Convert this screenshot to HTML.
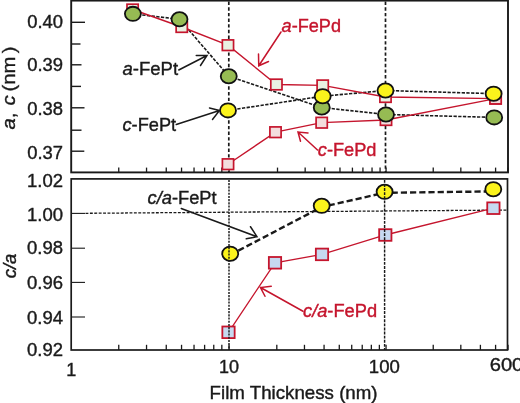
<!DOCTYPE html>
<html><head><meta charset="utf-8"><title>Lattice parameters vs film thickness</title>
<style>html,body{margin:0;padding:0;background:#fff}svg{display:block}</style></head>
<body>
<svg width="520" height="403" viewBox="0 0 520 403" style="font-family:&quot;Liberation Sans&quot;,sans-serif" font-size="18px">
<rect width="520" height="403" fill="#fff"/>
<line x1="228.8" y1="1.6" x2="228.8" y2="172" stroke="#1a1a1a" stroke-width="1.7" stroke-dasharray="3.4 2.25"/>
<line x1="385.5" y1="1.6" x2="385.5" y2="172" stroke="#1a1a1a" stroke-width="1.7" stroke-dasharray="3.4 2.25"/>
<line x1="71.2" y1="22.30" x2="85" y2="22.30" stroke="#1a1a1a" stroke-width="1.4"/>
<line x1="71.2" y1="44.00" x2="80.5" y2="44.00" stroke="#1a1a1a" stroke-width="1.4"/>
<line x1="71.2" y1="64.80" x2="81.5" y2="64.80" stroke="#1a1a1a" stroke-width="1.4"/>
<line x1="71.2" y1="86.40" x2="81" y2="86.40" stroke="#1a1a1a" stroke-width="1.4"/>
<line x1="71.2" y1="107.80" x2="84.5" y2="107.80" stroke="#1a1a1a" stroke-width="1.4"/>
<line x1="71.2" y1="130.20" x2="81.5" y2="130.20" stroke="#1a1a1a" stroke-width="1.4"/>
<line x1="71.2" y1="151.20" x2="84.3" y2="151.20" stroke="#1a1a1a" stroke-width="1.4"/>
<line x1="118.75" y1="172.4" x2="118.75" y2="167.6" stroke="#1a1a1a" stroke-width="1.3"/>
<line x1="146.54" y1="172.4" x2="146.54" y2="167.6" stroke="#1a1a1a" stroke-width="1.3"/>
<line x1="166.26" y1="172.4" x2="166.26" y2="167.6" stroke="#1a1a1a" stroke-width="1.3"/>
<line x1="181.55" y1="172.4" x2="181.55" y2="167.6" stroke="#1a1a1a" stroke-width="1.3"/>
<line x1="194.04" y1="172.4" x2="194.04" y2="167.6" stroke="#1a1a1a" stroke-width="1.3"/>
<line x1="204.61" y1="172.4" x2="204.61" y2="167.6" stroke="#1a1a1a" stroke-width="1.3"/>
<line x1="213.76" y1="172.4" x2="213.76" y2="167.6" stroke="#1a1a1a" stroke-width="1.3"/>
<line x1="221.83" y1="172.4" x2="221.83" y2="167.6" stroke="#1a1a1a" stroke-width="1.3"/>
<line x1="229.05" y1="172.4" x2="229.05" y2="167.6" stroke="#1a1a1a" stroke-width="1.3"/>
<line x1="277.51" y1="172.4" x2="277.51" y2="167.6" stroke="#1a1a1a" stroke-width="1.3"/>
<line x1="305.16" y1="172.4" x2="305.16" y2="167.6" stroke="#1a1a1a" stroke-width="1.3"/>
<line x1="324.77" y1="172.4" x2="324.77" y2="167.6" stroke="#1a1a1a" stroke-width="1.3"/>
<line x1="339.99" y1="172.4" x2="339.99" y2="167.6" stroke="#1a1a1a" stroke-width="1.3"/>
<line x1="352.42" y1="172.4" x2="352.42" y2="167.6" stroke="#1a1a1a" stroke-width="1.3"/>
<line x1="362.93" y1="172.4" x2="362.93" y2="167.6" stroke="#1a1a1a" stroke-width="1.3"/>
<line x1="372.04" y1="172.4" x2="372.04" y2="167.6" stroke="#1a1a1a" stroke-width="1.3"/>
<line x1="380.07" y1="172.4" x2="380.07" y2="167.6" stroke="#1a1a1a" stroke-width="1.3"/>
<line x1="386.05" y1="172.4" x2="386.05" y2="167.6" stroke="#1a1a1a" stroke-width="1.3"/>
<line x1="433.23" y1="172.4" x2="433.23" y2="167.6" stroke="#1a1a1a" stroke-width="1.3"/>
<line x1="460.82" y1="172.4" x2="460.82" y2="167.6" stroke="#1a1a1a" stroke-width="1.3"/>
<line x1="480.40" y1="172.4" x2="480.40" y2="167.6" stroke="#1a1a1a" stroke-width="1.3"/>
<line x1="495.59" y1="172.4" x2="495.59" y2="167.6" stroke="#1a1a1a" stroke-width="1.3"/>
<line x1="508.00" y1="172.4" x2="508.00" y2="167.6" stroke="#1a1a1a" stroke-width="1.3"/>
<line x1="71.2" y1="213.40" x2="85" y2="213.40" stroke="#1a1a1a" stroke-width="1.1"/>
<line x1="71.2" y1="248.20" x2="85" y2="248.20" stroke="#1a1a1a" stroke-width="1.1"/>
<line x1="71.2" y1="282.40" x2="85" y2="282.40" stroke="#1a1a1a" stroke-width="1.1"/>
<line x1="71.2" y1="317.00" x2="85" y2="317.00" stroke="#1a1a1a" stroke-width="1.1"/>
<line x1="118.75" y1="350.0" x2="118.75" y2="344.8" stroke="#1a1a1a" stroke-width="1.3"/>
<line x1="146.54" y1="350.0" x2="146.54" y2="344.8" stroke="#1a1a1a" stroke-width="1.3"/>
<line x1="166.26" y1="350.0" x2="166.26" y2="344.8" stroke="#1a1a1a" stroke-width="1.3"/>
<line x1="181.55" y1="350.0" x2="181.55" y2="344.8" stroke="#1a1a1a" stroke-width="1.3"/>
<line x1="194.04" y1="350.0" x2="194.04" y2="344.8" stroke="#1a1a1a" stroke-width="1.3"/>
<line x1="204.61" y1="350.0" x2="204.61" y2="344.8" stroke="#1a1a1a" stroke-width="1.3"/>
<line x1="213.76" y1="350.0" x2="213.76" y2="344.8" stroke="#1a1a1a" stroke-width="1.3"/>
<line x1="221.83" y1="350.0" x2="221.83" y2="344.8" stroke="#1a1a1a" stroke-width="1.3"/>
<line x1="229.05" y1="350.0" x2="229.05" y2="344.8" stroke="#1a1a1a" stroke-width="1.3"/>
<line x1="276.81" y1="350.0" x2="276.81" y2="344.8" stroke="#1a1a1a" stroke-width="1.3"/>
<line x1="304.46" y1="350.0" x2="304.46" y2="344.8" stroke="#1a1a1a" stroke-width="1.3"/>
<line x1="324.07" y1="350.0" x2="324.07" y2="344.8" stroke="#1a1a1a" stroke-width="1.3"/>
<line x1="339.29" y1="350.0" x2="339.29" y2="344.8" stroke="#1a1a1a" stroke-width="1.3"/>
<line x1="351.72" y1="350.0" x2="351.72" y2="344.8" stroke="#1a1a1a" stroke-width="1.3"/>
<line x1="362.23" y1="350.0" x2="362.23" y2="344.8" stroke="#1a1a1a" stroke-width="1.3"/>
<line x1="371.34" y1="350.0" x2="371.34" y2="344.8" stroke="#1a1a1a" stroke-width="1.3"/>
<line x1="379.37" y1="350.0" x2="379.37" y2="344.8" stroke="#1a1a1a" stroke-width="1.3"/>
<line x1="386.05" y1="350.0" x2="386.05" y2="344.8" stroke="#1a1a1a" stroke-width="1.3"/>
<line x1="433.23" y1="350.0" x2="433.23" y2="344.8" stroke="#1a1a1a" stroke-width="1.3"/>
<line x1="460.82" y1="350.0" x2="460.82" y2="344.8" stroke="#1a1a1a" stroke-width="1.3"/>
<line x1="480.40" y1="350.0" x2="480.40" y2="344.8" stroke="#1a1a1a" stroke-width="1.3"/>
<line x1="495.59" y1="350.0" x2="495.59" y2="344.8" stroke="#1a1a1a" stroke-width="1.3"/>
<line x1="508.00" y1="350.0" x2="508.00" y2="344.8" stroke="#1a1a1a" stroke-width="1.3"/>
<rect x="71.2" y="0.6" width="436.8" height="171.8" fill="none" stroke="#1a1a1a" stroke-width="1.9"/>
<rect x="71.2" y="178.9" width="436.3" height="171.1" fill="none" stroke="#1a1a1a" stroke-width="1.7"/>
<polyline points="132.9,13.85 179.5,19.25 228.75,76.25 321.75,107.5 386,114.5 494.2,117.4" fill="none" stroke="#1a1a1a" stroke-width="1.6" stroke-dasharray="3.3 1.4"/>
<polyline points="228,110.4 322.7,96.2 385.5,90.5 493.6,93.7" fill="none" stroke="#1a1a1a" stroke-width="1.6" stroke-dasharray="3.3 1.4"/>
<polyline points="132.6,9.5 181.75,27 227.95,45.2 276.4,84.5 322.7,85.4 385.5,97 495.6,98.6" fill="none" stroke="#c5152d" stroke-width="1.35"/>
<polyline points="228,164.2 275.5,132.2 321.7,122.7 386,120 495.6,98.6" fill="none" stroke="#c5152d" stroke-width="1.35"/>
<rect x="127.00" y="4.20" width="11.2" height="10.6" fill="#e9f1e2" stroke="#c5152d" stroke-width="1.7"/>
<rect x="176.15" y="21.70" width="11.2" height="10.6" fill="#e9f1e2" stroke="#c5152d" stroke-width="1.7"/>
<rect x="222.35" y="39.90" width="11.2" height="10.6" fill="#e9f1e2" stroke="#c5152d" stroke-width="1.7"/>
<rect x="270.80" y="79.20" width="11.2" height="10.6" fill="#e9f1e2" stroke="#c5152d" stroke-width="1.7"/>
<rect x="317.10" y="80.10" width="11.2" height="10.6" fill="#e9f1e2" stroke="#c5152d" stroke-width="1.7"/>
<rect x="379.90" y="91.70" width="11.2" height="10.6" fill="#e9f1e2" stroke="#c5152d" stroke-width="1.7"/>
<rect x="490.00" y="93.30" width="11.2" height="10.6" fill="#e9f1e2" stroke="#c5152d" stroke-width="1.7"/>
<rect x="222.40" y="158.90" width="11.2" height="10.6" fill="#f3dddd" stroke="#c5152d" stroke-width="1.7"/>
<rect x="269.90" y="126.90" width="11.2" height="10.6" fill="#f3dddd" stroke="#c5152d" stroke-width="1.7"/>
<rect x="316.10" y="117.40" width="11.2" height="10.6" fill="#f3dddd" stroke="#c5152d" stroke-width="1.7"/>
<rect x="380.40" y="114.70" width="11.2" height="10.6" fill="#f3dddd" stroke="#c5152d" stroke-width="1.7"/>
<rect x="490.00" y="93.30" width="11.2" height="10.6" fill="#f3dddd" stroke="#c5152d" stroke-width="1.7"/>
<ellipse cx="132.9" cy="13.85" rx="8.0" ry="7.1" fill="#96bb53" stroke="#111" stroke-width="1.8"/>
<ellipse cx="179.5" cy="19.25" rx="8.0" ry="7.1" fill="#96bb53" stroke="#111" stroke-width="1.8"/>
<ellipse cx="228.75" cy="76.25" rx="8.0" ry="7.1" fill="#96bb53" stroke="#111" stroke-width="1.8"/>
<ellipse cx="321.75" cy="107.5" rx="8.0" ry="7.1" fill="#96bb53" stroke="#111" stroke-width="1.8"/>
<ellipse cx="386" cy="114.5" rx="8.0" ry="7.1" fill="#96bb53" stroke="#111" stroke-width="1.8"/>
<ellipse cx="494.2" cy="117.4" rx="8.0" ry="7.1" fill="#96bb53" stroke="#111" stroke-width="1.8"/>
<ellipse cx="228" cy="110.4" rx="8.0" ry="7.1" fill="#fbf31c" stroke="#111" stroke-width="1.8"/>
<ellipse cx="322.7" cy="96.2" rx="8.0" ry="7.1" fill="#fbf31c" stroke="#111" stroke-width="1.8"/>
<ellipse cx="385.5" cy="90.5" rx="8.0" ry="7.1" fill="#fbf31c" stroke="#111" stroke-width="1.8"/>
<ellipse cx="493.6" cy="93.7" rx="8.0" ry="7.1" fill="#fbf31c" stroke="#111" stroke-width="1.8"/>
<line x1="85.5" y1="213.3" x2="507" y2="210.05" stroke="#1a1a1a" stroke-width="1.3" stroke-dasharray="2.9 1.5"/>
<polyline points="228.5,332.3 275.0,262.8 322.0,254.4 385.3,235 493.4,208.2" fill="none" stroke="#c5152d" stroke-width="1.3"/>
<polyline points="230.2,254.9 321.7,207 384.5,192.8 493.3,191.4" fill="none" stroke="#1a1a1a" stroke-width="2.4" stroke-dasharray="6.2 3"/>
<rect x="222.35" y="326.50" width="12.3" height="11.6" fill="#c6d9f0" stroke="#c5152d" stroke-width="1.8"/>
<rect x="268.85" y="257.00" width="12.3" height="11.6" fill="#c6d9f0" stroke="#c5152d" stroke-width="1.8"/>
<rect x="315.85" y="248.60" width="12.3" height="11.6" fill="#c6d9f0" stroke="#c5152d" stroke-width="1.8"/>
<rect x="379.15" y="229.20" width="12.3" height="11.6" fill="#c6d9f0" stroke="#c5152d" stroke-width="1.8"/>
<rect x="487.25" y="202.40" width="12.3" height="11.6" fill="#c6d9f0" stroke="#c5152d" stroke-width="1.8"/>
<ellipse cx="230.2" cy="253.7" rx="8.0" ry="7.1" fill="#fbf31c" stroke="#111" stroke-width="1.8"/>
<ellipse cx="321.7" cy="205.8" rx="8.0" ry="7.1" fill="#fbf31c" stroke="#111" stroke-width="1.8"/>
<ellipse cx="384.6" cy="191.8" rx="8.0" ry="7.1" fill="#fbf31c" stroke="#111" stroke-width="1.8"/>
<ellipse cx="493.3" cy="189.2" rx="8.0" ry="7.1" fill="#fbf31c" stroke="#111" stroke-width="1.8"/>
<line x1="229.0" y1="179.9" x2="229.0" y2="350.0" stroke="#1a1a1a" stroke-width="1.45" stroke-dasharray="2.1 1.1"/>
<line x1="384.6" y1="179.9" x2="384.6" y2="350.0" stroke="#1a1a1a" stroke-width="1.45" stroke-dasharray="2.9 1.2"/>
<path d="M178.75,70 L207,55.5 M196.25,55.5 L207,55.5 L200.5,65.5" fill="none" stroke="#1a1a1a" stroke-width="1.5" stroke-linecap="round" stroke-linejoin="miter"/>
<path d="M176.25,124.5 L219.5,110.5 M209.5,108 L219.5,110.5 L212.5,119.5" fill="none" stroke="#1a1a1a" stroke-width="1.5" stroke-linecap="round" stroke-linejoin="miter"/>
<path d="M281,32 L258.75,65.75 M258.5,54 L258.75,65.75 L268.5,61.5" fill="none" stroke="#c5152d" stroke-width="1.5" stroke-linecap="round" stroke-linejoin="miter"/>
<path d="M317.5,150 L298,132 M308,133 L298,132 L300.5,141.25" fill="none" stroke="#c5152d" stroke-width="1.5" stroke-linecap="round" stroke-linejoin="miter"/>
<path d="M181.25,208.5 L257,236.75 M250.5,226.75 L257,236.75 L246.25,238.75" fill="none" stroke="#1a1a1a" stroke-width="1.5" stroke-linecap="round" stroke-linejoin="miter"/>
<path d="M303,311.25 L260.5,287.5 M271.25,286.25 L260.5,287.5 L265,296.25" fill="none" stroke="#c5152d" stroke-width="1.5" stroke-linecap="round" stroke-linejoin="miter"/>
<text x="63.0" y="27.8" fill="#1a1a1a" stroke="#1a1a1a" stroke-width="0.4" font-size="18.4px" text-anchor="end">0.40</text>
<text x="63.0" y="71.3" fill="#1a1a1a" stroke="#1a1a1a" stroke-width="0.4" font-size="18.4px" text-anchor="end">0.39</text>
<text x="63.0" y="114.7" fill="#1a1a1a" stroke="#1a1a1a" stroke-width="0.4" font-size="18.4px" text-anchor="end">0.38</text>
<text x="63.0" y="159.1" fill="#1a1a1a" stroke="#1a1a1a" stroke-width="0.4" font-size="18.4px" text-anchor="end">0.37</text>
<text x="63.1" y="186.6" fill="#1a1a1a" stroke="#1a1a1a" stroke-width="0.4" font-size="18.5px" text-anchor="end">1.02</text>
<text x="63.1" y="220.8" fill="#1a1a1a" stroke="#1a1a1a" stroke-width="0.4" font-size="18.5px" text-anchor="end">1.00</text>
<text x="63.1" y="254.4" fill="#1a1a1a" stroke="#1a1a1a" stroke-width="0.4" font-size="18.5px" text-anchor="end">0.98</text>
<text x="63.1" y="289.3" fill="#1a1a1a" stroke="#1a1a1a" stroke-width="0.4" font-size="18.5px" text-anchor="end">0.96</text>
<text x="63.1" y="323.5" fill="#1a1a1a" stroke="#1a1a1a" stroke-width="0.4" font-size="18.5px" text-anchor="end">0.94</text>
<text x="63.1" y="356.3" fill="#1a1a1a" stroke="#1a1a1a" stroke-width="0.4" font-size="18.5px" text-anchor="end">0.92</text>
<text x="122.5" y="75" fill="#1a1a1a" stroke="#1a1a1a" stroke-width="0.4" font-size="18.5px" text-anchor="start"><tspan font-style="italic">a</tspan>-FePt</text>
<text x="122.5" y="130.5" fill="#1a1a1a" stroke="#1a1a1a" stroke-width="0.4" font-size="18.2px" text-anchor="start"><tspan font-style="italic">c</tspan>-FePt</text>
<text x="281.6" y="31.75" fill="#c5152d" stroke="#c5152d" stroke-width="0.4" font-size="18.1px" text-anchor="start"><tspan font-style="italic">a</tspan>-FePd</text>
<text x="317.8" y="155.8" fill="#c5152d" stroke="#c5152d" stroke-width="0.4" font-size="18.2px" text-anchor="start"><tspan font-style="italic">c</tspan>-FePd</text>
<text x="147.5" y="203.8" fill="#1a1a1a" stroke="#1a1a1a" stroke-width="0.4" font-size="18.3px" text-anchor="start"><tspan font-style="italic">c/a</tspan>-FePt</text>
<text x="303" y="317.1" fill="#c5152d" stroke="#c5152d" stroke-width="0.4" font-size="18.25px" text-anchor="start"><tspan font-style="italic">c/a</tspan>-FePd</text>
<text x="71.3" y="375.6" fill="#1a1a1a" stroke="#1a1a1a" stroke-width="0.4" font-size="18px" text-anchor="middle">1</text>
<text x="229" y="373.4" fill="#1a1a1a" stroke="#1a1a1a" stroke-width="0.4" font-size="18px" text-anchor="middle">10</text>
<text x="384.3" y="373.4" fill="#1a1a1a" stroke="#1a1a1a" stroke-width="0.4" font-size="18px" text-anchor="middle" textLength="31" lengthAdjust="spacingAndGlyphs">100</text>
<text x="489.7" y="371.4" fill="#1a1a1a" stroke="#1a1a1a" stroke-width="0.4" font-size="18px" text-anchor="start" textLength="33.6" lengthAdjust="spacingAndGlyphs">600</text>
<text x="209.6" y="398.8" fill="#1a1a1a" stroke="#1a1a1a" stroke-width="0.4" font-size="18.5px" text-anchor="start" textLength="168" lengthAdjust="spacingAndGlyphs">Film Thickness (nm)</text>
<text transform="translate(15.2,129.6) rotate(-90) scale(1.065,1)" fill="#1a1a1a" stroke="#1a1a1a" stroke-width="0.4" font-size="19px" word-spacing="1.6px"><tspan font-style="italic">a</tspan>, <tspan font-style="italic">c</tspan> <tspan dx="-3.3">(nm</tspan><tspan dx="3.3">)</tspan></text>
<text transform="translate(15.5,278.3) rotate(-90)" fill="#1a1a1a" stroke="#1a1a1a" stroke-width="0.4" font-size="18.5px" font-style="italic">c/a</text>
</svg>
</body></html>
